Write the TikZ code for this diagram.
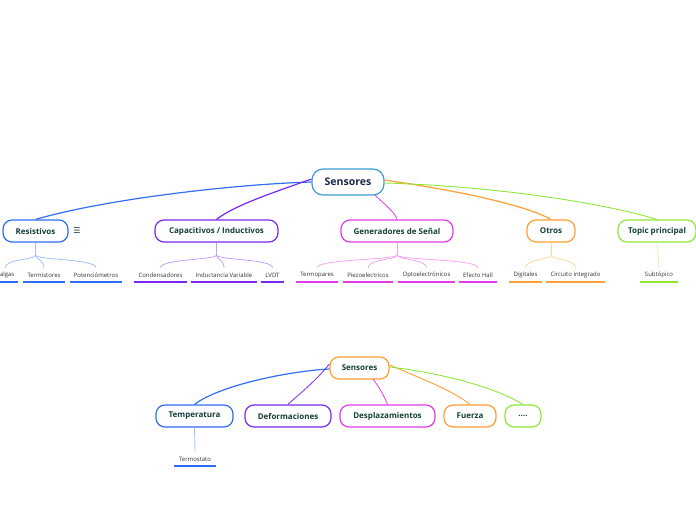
\documentclass[tikz,border=0pt]{standalone}
\usepackage{fontspec}
\setmainfont{Open Sans}
\newfontfamily\symfont{DejaVu Sans}
\definecolor{cBlue}{HTML}{2F6EF5}
\definecolor{cPurple}{HTML}{7A29F0}
\definecolor{cMag}{HTML}{E23CE6}
\definecolor{cOrange}{HTML}{FFA033}
\definecolor{cGreen}{HTML}{8EE83A}
\definecolor{cMain}{HTML}{3D9AD6}
\definecolor{lBlue}{HTML}{A3C0FA}
\definecolor{lPurple}{HTML}{C4A2F8}
\definecolor{lMag}{HTML}{F3A6F3}
\definecolor{lOrange}{HTML}{FFD6A3}
\definecolor{lGreen}{HTML}{D6F5B6}
\definecolor{textC}{HTML}{143F3A}
\definecolor{mainText}{HTML}{1B2B4B}
\definecolor{childC}{HTML}{333333}
\begin{document}
\begin{tikzpicture}[x=1pt,y=-1pt,
  topic/.style={draw, rounded corners=9pt, line width=1.2pt, inner sep=0pt,
    minimum height=22pt, font=\bfseries\fontsize{8}{10}\selectfont, text=textC, fill=white},
  childnode/.style n args={2}{minimum width=#1, minimum height=14pt, inner sep=0pt,
    font=\fontsize{6}{7}\selectfont, text=childC,
    append after command={(\tikzlastnode.south west) edge[draw=#2, line width=1.8pt] (\tikzlastnode.south east)}},
  conn/.style={line width=1.2pt},
  branch/.style={line width=0.8pt}
]
\useasboundingbox (0,0) rectangle (696,520);

% ---------- top map ----------
\node[topic, draw=cMain, minimum width=72pt, minimum height=26pt, rounded corners=11pt,
  font=\bfseries\fontsize{10.5}{12}\selectfont, text=mainText] (s1) at (348,182) {Sensores};

\node[topic, draw=cBlue, minimum width=65pt] (res) at (35.5,231) {Resistivos};
\node[text=textC, font=\symfont\fontsize{8}{10}\selectfont, inner sep=0pt] (resicon) at (77,231) {☰};
\node[topic, draw=cPurple, minimum width=123pt] (cap) at (216.5,231) {Capacitivos / Inductivos};
\node[topic, draw=cMag, minimum width=112pt] (gen) at (397,231) {Generadores de Señal};
\node[topic, draw=cOrange, minimum width=48pt] (otr) at (551,231) {Otros};
\node[topic, draw=cGreen, minimum width=78pt] (tp) at (657,231) {Topic principal};

\draw[conn, cBlue] (s1.west) .. controls (240,184) and (110,198) .. (res.north);
\draw[conn, cPurple] ([yshift=3pt]s1.west) .. controls (275,192) and (235,205) .. (cap.north);
\draw[conn, cMag, line width=0.8pt] (375,195) coordinate (s1m) .. controls (385,205) and (395,212) .. (gen.north);
\draw[conn, cOrange] ([yshift=2pt]s1.east) .. controls (460,191) and (525,205) .. (otr.north);
\draw[conn, cGreen, line width=0.9pt] ([yshift=-1pt]s1.east) .. controls (490,186) and (600,202) .. (tp.north);

% children
\node[childnode={26pt}{cBlue}] (galg) at (5,275) {Galgas};
\node[childnode={42pt}{cBlue}] (term) at (44,275) {Termistores};
\node[childnode={52pt}{cBlue}] (pot) at (96,275) {Potenciómetros};

\node[childnode={53pt}{cPurple}] (cond) at (160.5,275) {Condensadores};
\node[childnode={66pt}{cPurple}] (indv) at (224,275) {Inductancia Variable};
\node[childnode={23pt}{cPurple}] (lvdt) at (272.5,275) {LVDT};

\node[childnode={42pt}{cMag}] (tpar) at (317,275) {Termopares};
\node[childnode={50pt}{cMag}] (piez) at (368,275) {Piezoelectricos};
\node[childnode={57pt}{cMag}] (opto) at (426.5,275) {Optoelectrónicos};
\node[childnode={38pt}{cMag}] (hall) at (478,275) {Efecto Hall};

\node[childnode={33pt}{cOrange}] (dig) at (525.5,275) {Digitales};
\node[childnode={59pt}{cOrange}] (ci) at (575.5,275) {Circuito integrado};

\node[childnode={38pt}{cGreen}] (sub) at (659,275) {Subtópico};

\coordinate (resj) at (35.5,255);
\coordinate (capj) at (216.5,255);
\coordinate (genj) at (397,255);
\coordinate (otrj) at (551,255);

\draw[branch, lBlue] (res.south) -- (resj);
\foreach \c in {galg,term,pot}
  \draw[branch, lBlue] (resj) .. controls +(0,5) and +(0,-9) .. (\c.north);
\draw[branch, lPurple] (cap.south) -- (capj);
\foreach \c in {cond,indv,lvdt}
  \draw[branch, lPurple] (capj) .. controls +(0,5) and +(0,-9) .. (\c.north);
\draw[branch, lMag] (gen.south) -- (genj);
\foreach \c in {tpar,piez,opto,hall}
  \draw[branch, lMag] (genj) .. controls +(0,5) and +(0,-9) .. (\c.north);
\draw[branch, lOrange] (otr.south) -- (otrj);
\foreach \c in {dig,ci}
  \draw[branch, lOrange] (otrj) .. controls +(0,5) and +(0,-9) .. (\c.north);
\draw[branch, lGreen] (tp.south) -- (sub.north);

% ---------- bottom map ----------
\node[topic, draw=cOrange, minimum width=59pt] (s2) at (359.5,368) {Sensores};
\node[topic, draw=cBlue, minimum width=77pt] (temp) at (194.5,416) {Temperatura};
\node[topic, draw=cPurple, minimum width=86pt] (def) at (288,416) {Deformaciones};
\node[topic, draw=cMag, minimum width=95pt] (desp) at (387.5,416) {Desplazamientos};
\node[topic, draw=cOrange, minimum width=52pt] (fue) at (470,416) {Fuerza};
\node[topic, draw=cGreen, minimum width=36pt] (dots) at (523,416) {....};

\draw[conn, cBlue] ([yshift=-1pt]s2.west) .. controls (290,371) and (220,385) .. (temp.north);
\draw[branch, cPurple] ([yshift=4pt]s2.west) .. controls (315,382) and (298,395) .. (def.north);
\draw[branch, cMag] (373,379) coordinate (s2m) .. controls (380,388) and (385,398) .. (desp.north);
\draw[conn, cOrange, line width=0.9pt] ([yshift=3pt]s2.east) .. controls (425,380) and (455,392) .. (fue.north);
\draw[conn, cGreen, line width=0.9pt] ([yshift=1pt]s2.east) .. controls (450,374) and (500,390) .. (dots.north);

\node[childnode={42pt}{cBlue}] (tstat) at (195,459) {Termostato};
\draw[branch, lBlue] (temp.south) -- (tstat.north);
\end{tikzpicture}
\end{document}
